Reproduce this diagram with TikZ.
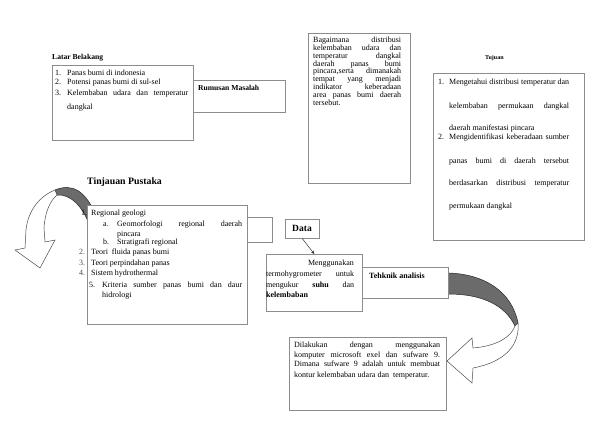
\documentclass[tikz,border=0pt]{standalone}
\usepackage{fontspec}
\setmainfont{Liberation Serif}
\usetikzlibrary{arrows.meta}
\newcommand\jl[2]{\makebox[#1pt][s]{#2}}
\begin{document}
\begin{tikzpicture}[x=1pt,y=-1pt,
  box/.style={draw=black!45, line width=0.6pt, fill=white, inner sep=0pt, anchor=north west},
  tx/.style={anchor=base west, inner sep=0pt, font=\fontsize{8}{9}\selectfont},
  txr/.style={anchor=base east, inner sep=0pt, font=\fontsize{8}{9}\selectfont},
  ttl/.style={anchor=base west, inner sep=0pt, font=\fontsize{7.6}{9}\selectfont\bfseries},
  dark/.style={fill=black!58, draw=black!85, line width=0.5pt},
  light/.style={fill=white, draw=black!70, line width=0.5pt}]
\useasboundingbox (0,0) rectangle (600,424);
\fill[white] (0,0) rectangle (600,424);

% ---- curved arrows (behind boxes)
\path[dark] (55,190) .. controls (72,183) and (86,190) .. (97,218) -- (95,235) -- (90,226)
  .. controls (82,205) and (70,194) .. (57,195) -- cycle;
\path[light] (55,190) .. controls (40,196) and (28,210) .. (26,230) -- (25,248) -- (15,250)
  -- (40,268) -- (55,240) -- (45,242) -- (44,228) .. controls (45,212) and (50,201) .. (57,195) -- cycle;

\path[dark] (440,273) -- (448,273) .. controls (485,274) and (512,292) .. (518,323) -- (515,326)
  .. controls (505,305) and (482,294) .. (448,294) -- (440,294) -- cycle;
\path[light] (518,323) .. controls (520,345) and (505,362) .. (473,368) -- (472,383) -- (447,361)
  -- (472,338) -- (473,348) .. controls (497,346) and (511,337) .. (515,326) -- cycle;

% ---- boxes
\node[box, minimum width=141pt, minimum height=75pt] (latar) at (52,65) {};
\node[box, minimum width=92pt, minimum height=32pt] (rumusan) at (193,80) {};
\node[box, minimum width=102pt, minimum height=150pt] (bagaimana) at (308,33) {};
\node[box, minimum width=151pt, minimum height=167pt] (tujuan) at (433,73) {};
\node[box, minimum width=160pt, minimum height=119pt] (tinjauan) at (87,205) {};
\node[box, minimum width=25pt, minimum height=25pt] (kecil) at (247,217) {};
\node[box, minimum width=34pt, minimum height=19pt] (data) at (285,219) {};
\node[box, minimum width=96pt, minimum height=57pt] (alat) at (266,254) {};
\node[box, minimum width=86pt, minimum height=31pt] (teknik) at (362,267) {};
\node[box, minimum width=157pt, minimum height=73pt] (hasil) at (289,337) {};

\draw[black!80, line width=0.5pt, -{Stealth[length=3.5pt,width=3pt]}] (data.south) -- (alat.north);

% ---- titles
\node[ttl] (tLatar) at (52,59.5) {Latar Belakang};
\node[ttl] (tRumusan) at (198,90.5) {Rumusan Masalah};
\node[ttl, font=\fontsize{6}{7}\selectfont\bfseries] (tTujuan) at (485,59.5) {Tujuan};
\node[ttl, font=\fontsize{9.8}{11}\selectfont\bfseries] (tTinjauan) at (87,184) {Tinjauan Pustaka};
\node[anchor=base, inner sep=0pt, font=\fontsize{9.5}{11}\selectfont\bfseries] (tData) at (302,231) {Data};
\node[ttl, font=\fontsize{8}{9}\selectfont\bfseries] (tTeknik) at (369,278.5) {Tehknik analisis};

% ---- Latar Belakang
\node[tx] (l1n) at (55,75) {1.};
\node[tx] (l1) at (67,75) {Panas bumi di indonesia};
\node[tx] (l2n) at (55,84) {2.};
\node[tx] (l2) at (67,84) {Potensi panas bumi di sul-sel};
\node[tx] (l3n) at (55,95) {3.};
\node[tx] (l3) at (67,95) {\jl{121}{Kelembaban udara dan temperatur}};
\node[tx] (l4) at (67,109) {dangkal};

% ---- Bagaimana
\node[tx] (b1) at (313,42) {\jl{88}{Bagaimana distribusi}};
\node[tx] (b2) at (313,50) {\jl{88}{kelembaban udara dan}};
\node[tx] (b3) at (313,58) {\jl{88}{temperatur dangkal}};
\node[tx] (b4) at (313,66) {\jl{88}{daerah panas bumi}};
\node[tx] (b5) at (313,73.5) {\jl{88}{pincara,serta dimanakah}};
\node[tx] (b6) at (313,81.5) {\jl{88}{tempat yang menjadi}};
\node[tx] (b7) at (313,89) {\jl{88}{indikator keberadaan}};
\node[tx] (b8) at (313,97) {\jl{88}{area panas bumi daerah}};
\node[tx] (b9) at (313,105) {tersebut.};

% ---- Tujuan
\node[tx] (j1n) at (438,84.5) {1.};
\node[tx] (j1) at (449,84.5) {\jl{120}{Mengetahui distribusi temperatur dan}};
\node[tx] (j2) at (449,108.5) {\jl{120}{kelembaban permukaan dangkal}};
\node[tx] (j3) at (449,130.5) {daerah manifestasi pincara};
\node[tx] (j4n) at (438,139.5) {2.};
\node[tx] (j4) at (449,139.5) {\jl{120}{Mengidentifikasi keberadaan sumber}};
\node[tx] (j5) at (449,163.5) {\jl{120}{panas bumi di daerah tersebut}};
\node[tx] (j6) at (449,185.5) {\jl{120}{berdasarkan distribusi temperatur}};
\node[tx] (j7) at (449,208.5) {permukaan dangkal};

% ---- Tinjauan Pustaka
\node[tx] (p1n) at (81,215) {1.};
\node[tx] (p1) at (91,215) {Regional geologi};
\node[tx] (p1an) at (103,226) {a.};
\node[tx] (p1a) at (117,226) {\jl{125}{Geomorfologi regional daerah}};
\node[tx] (p1a2) at (117,236) {pincara};
\node[tx] (p1bn) at (103,244.5) {b.};
\node[tx] (p1b) at (117,244.5) {Stratigrafi regional};
\node[tx, text=black!70] (p2n) at (79,254.5) {2.};
\node[tx] (p2) at (91,254.5) {Teori\ \ fluida panas bumi};
\node[tx, text=black!70] (p3n) at (79,265) {3.};
\node[tx] (p3) at (91,265) {Teori perpindahan panas};
\node[tx, text=black!70] (p4n) at (79,275.5) {4.};
\node[tx] (p4) at (91,275.5) {Sistem hydrothermal};
\node[tx] (p5n) at (89,287) {5.};
\node[tx] (p5) at (102,287) {\jl{140}{Kriteria sumber panas bumi dan daur}};
\node[tx] (p6) at (102,297) {hidrologi};

% ---- Data / alat
\node[txr] (a1) at (354,265.5) {Menggunakan};
\node[tx] (a2) at (266,276.5) {\jl{88}{termohygrometer untuk}};
\node[tx] (a3) at (266,287.5) {\jl{88}{mengukur \textbf{suhu} dan}};
\node[tx] (a4) at (266,297.5) {\textbf{kelembaban}};

% ---- Dilakukan
\node[tx] (d1) at (294,347.5) {\jl{146}{Dilakukan dengan menggunakan}};
\node[tx] (d2) at (294,357.5) {\jl{146}{komputer microsoft exel dan sufware 9.}};
\node[tx] (d3) at (294,366.5) {\jl{146}{Dimana sufware 9 adalah untuk membuat}};
\node[tx] (d4) at (294,377.5) {kontur kelembaban udara dan\ \ temperatur.};
\end{tikzpicture}
\end{document}
